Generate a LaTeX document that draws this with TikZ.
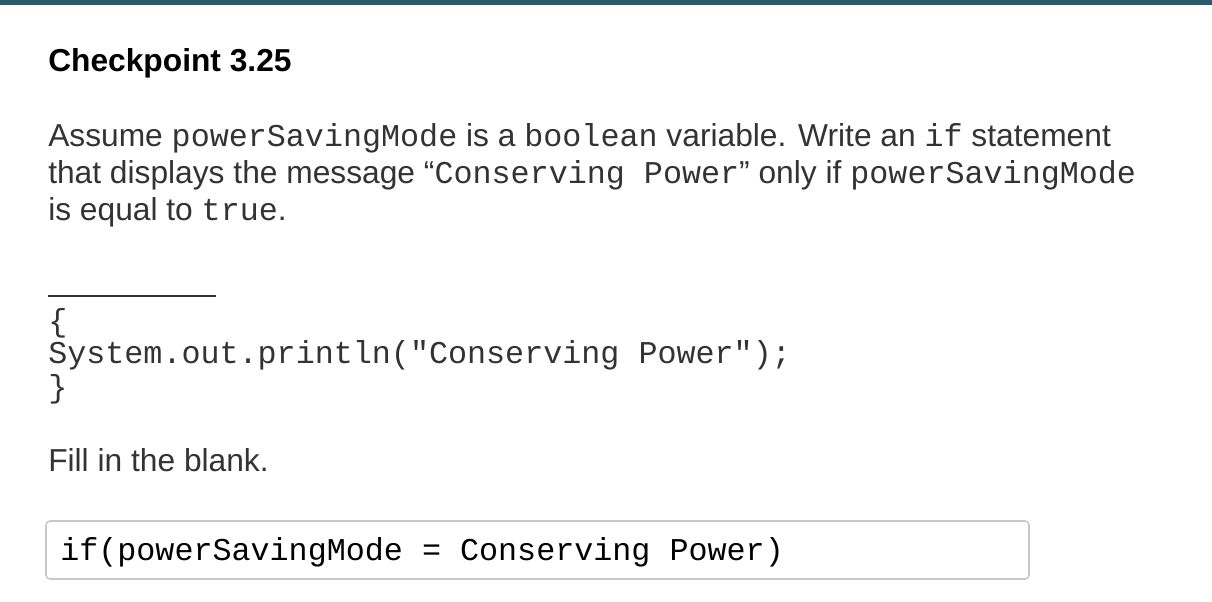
\documentclass[tikz,border=0pt]{standalone}
\usepackage{fontspec}
\setmainfont{Liberation Sans}
\setmonofont{Liberation Mono}
\definecolor{bar}{HTML}{2B5B6B}
\definecolor{txt}{HTML}{333333}
\definecolor{boxc}{HTML}{C8C8C8}
\begin{document}
\begin{tikzpicture}[x=0.75pt,y=-0.75pt,
  t/.style={anchor=base west,inner sep=0,text=txt,font=\fontsize{23.8pt}{28pt}\selectfont}]
\useasboundingbox (0,0) rectangle (1212,602);
\fill[white] (0,0) rectangle (1212,602);
\fill[bar] (0,0) rectangle (1212,5);
\node[t,font=\fontsize{23.8pt}{28pt}\selectfont\bfseries,text=black] (title) at (48,72) {Checkpoint 3.25};
\node[t] (l1) at (48,147) {Assume \texttt{powerSavingMode} is a \texttt{boolean} variable. Write an \texttt{if} statement};
\node[t] (l2) at (48,184) {that displays the message “\texttt{Conserving Power}” only if \texttt{powerSavingMode}};
\node[t] (l3) at (48,221) {is equal to \texttt{true}.};
\coordinate (b1) at (48,296); \coordinate (b2) at (216,296);
\draw[txt,line width=1pt] (b1) -- (b2);
\node[t] (c1) at (48,331) {\ttfamily\{};
\node[t] (c2) at (48,363) {\ttfamily System.out.println("Conserving Power");};
\node[t] (c3) at (48,397) {\ttfamily\}};
\node[t] (fill) at (48,471) {Fill in the blank.};
\draw[boxc,line width=1.2pt,rounded corners=3pt] (46,521) rectangle (1029,579);
\node[t,text=black] (ans) at (60,560) {\ttfamily if(powerSavingMode = Conserving Power)};
\end{tikzpicture}
\end{document}
